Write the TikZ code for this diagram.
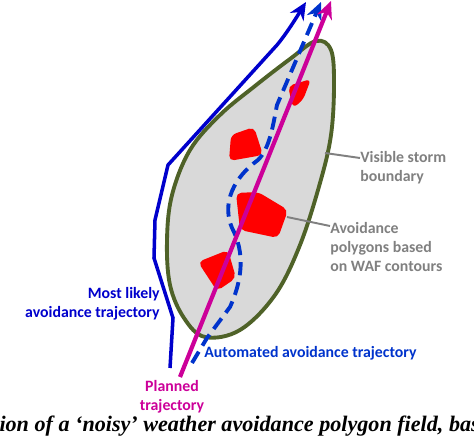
\documentclass[tikz,border=0pt]{standalone}
\usepackage{fontspec}
\setmainfont{Carlito}
\newfontfamily\capfont{Liberation Serif}
\usetikzlibrary{arrows.meta}
\definecolor{stormline}{RGB}{79,98,40}
\definecolor{stormfill}{RGB}{217,217,217}
\definecolor{likelyblue}{RGB}{0,0,204}
\definecolor{autoblue}{RGB}{0,51,204}
\definecolor{planmag}{RGB}{204,0,153}
\definecolor{labelgray}{RGB}{128,128,128}
\definecolor{cellred}{RGB}{255,0,0}
\tikzset{
  storm/.style={draw=stormline,fill=stormfill,line width=2.2pt},
  cell/.style={fill=cellred,rounded corners=3pt},
  planned/.style={draw=planmag,line width=2.4pt,-{Stealth[length=10pt,width=9pt]}},
  automated/.style={draw=autoblue,line width=2.2pt,dash pattern=on 7.5pt off 4pt,-{Stealth[length=10pt,width=9pt]}},
  likely/.style={draw=likelyblue,line width=2pt,-{Stealth[length=10pt,width=9pt]}},
  leader/.style={draw=labelgray,line width=1.1pt},
  lbl/.style={inner sep=0pt,font=\bfseries\fontsize{9}{11}\selectfont}
}
\begin{document}
\begin{tikzpicture}[x=0.02cm,y=-0.02cm]
  \useasboundingbox (0,0) rectangle (474,439);
  \clip (0,0) rectangle (474,439);
  \draw[storm] plot[smooth cycle,tension=0.6] coordinates
    {(205,337) (184,318) (170,285) (167,240) (172,195) (190,150) (220,115)
     (255,86) (290,59) (316,41) (331,50) (334,85) (331,135) (320,183)
     (300,245) (275,295) (240,330)};
  \fill[cell] (288,86) -- (311,79) -- (303,100) -- (293,108) -- cycle;
  \fill[cell] (231,135) -- (254,127) -- (263,155) -- (229,161) -- cycle;
  \fill[cell] (236,193) -- (258,192) -- (288,210) -- (278,238) -- (240,230) -- cycle;
  \fill[cell] (198,262) -- (228,250) -- (236,278) -- (217,291) -- cycle;
  \coordinate (autostart) at (192,363);
  \coordinate (autoend) at (321,2);
  \coordinate (likelystart) at (170,368);
  \coordinate (likelyend) at (306,2);
  \coordinate (planstart) at (180,377);
  \coordinate (planend) at (331,1);
  \draw[automated] (autostart) -- (207,338) -- (230,307)
    .. controls (240,285) and (246,258) .. (234,232)
    .. controls (222,210) and (228,182) .. (258,160)
    .. controls (270,148) and (273,125) .. (277,105)
    -- (autoend);
  \draw[likely] (likelystart) -- (173,318) -- (154,258) -- (155,220)
    -- (168,165) -- (277,45)
    .. controls (287,33) and (298,15) .. (likelyend);
  \draw[planned] (planstart) -- (planend);
  \node[lbl,text=labelgray,align=left,anchor=west] (visible) at (360,168)
    {Visible storm\\boundary};
  \node[lbl,text=labelgray,align=left,anchor=west] (avoid) at (330,247)
    {Avoidance\\polygons based\\on WAF contours};
  \node[lbl,text=likelyblue,align=right,anchor=east] (mostlikely) at (160,304)
    {Most likely\\avoidance trajectory};
  \node[lbl,text=autoblue,anchor=west] (autolabel) at (204,353)
    {Automated avoidance trajectory};
  \node[lbl,text=planmag,align=center] (plannedlabel) at (172,397)
    {Planned\\trajectory};
  \node[inner sep=0pt,anchor=base west,font=\capfont\itshape\bfseries\fontsize{12.6}{15}\selectfont] (caption) at (-7,432)
    {tion of a ‘noisy’ weather avoidance polygon field, bas};
  \coordinate (stormedge) at (325,153);
  \coordinate (celledge) at (287,217);
  \draw[leader] (stormedge) -- (visible.west |- 0,158);
  \draw[leader] (celledge) -- (avoid.west |- 0,226);
\end{tikzpicture}
\end{document}
